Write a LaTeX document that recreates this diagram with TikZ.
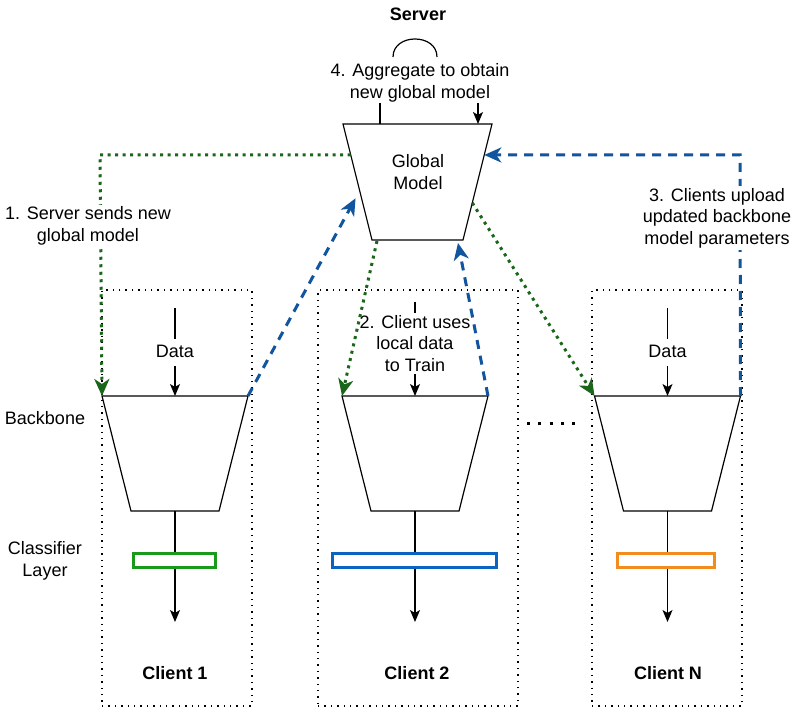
\documentclass[tikz,border=0pt]{standalone}
\usepackage{fontspec}
\setmainfont{Liberation Sans}
\usetikzlibrary{arrows.meta,calc}
\definecolor{gdot}{HTML}{1A661A}
\definecolor{bdash}{HTML}{11559E}
\definecolor{clgreen}{HTML}{1A9A1A}
\definecolor{clblue}{HTML}{0A64C0}
\definecolor{clorange}{HTML}{F28C1E}
% name, cx, ytop, half top width, half bottom width, height
\newcommand\mytrap[6]{%
  \coordinate (#1-tl) at ({#2-#4},#3);
  \coordinate (#1-tr) at ({#2+#4},#3);
  \coordinate (#1-bl) at ({#2-#5},{#3+#6});
  \coordinate (#1-br) at ({#2+#5},{#3+#6});
  \coordinate (#1-n) at (#2,#3);
  \coordinate (#1-s) at (#2,{#3+#6});
  \draw[line width=1.2pt, line join=miter] (#1-tl) -- (#1-tr) -- (#1-br) -- (#1-bl) -- cycle;
}
\begin{document}
\begin{tikzpicture}[x=1pt,y=-1pt,
  every node/.style={font=\fontsize{18}{21.5}\selectfont, inner sep=0pt, outer sep=0pt},
  cbox/.style={draw, line width=1.2pt, dash pattern=on 1.4pt off 5pt, minimum width=150pt, minimum height=416pt},
  clsf/.style={draw=#1, line width=3pt, fill=white, minimum height=14pt},
  blk/.style={line width=1.2pt, -{Stealth[length=12pt,width=10pt,inset=3pt]}},
  plain/.style={line width=1.2pt},
  gflow/.style={gdot, line width=3pt, dash pattern=on 3pt off 4.5pt, -{Stealth[length=17pt,width=15pt,inset=5pt]}},
  bflow/.style={bdash, line width=3pt, dash pattern=on 9pt off 7pt, -{Stealth[length=17pt,width=15pt,inset=5pt]}},
  lbl/.style={fill=white, inner sep=2pt, align=center},
  bold/.style={font=\fontsize{18}{21.5}\selectfont\bfseries}
]
\useasboundingbox (0,0) rectangle (795,711);

% client boxes
\node[cbox] (box1) at (177,498) {};
\node[cbox, minimum width=200pt] (box2) at (418,498) {};
\node[cbox] (boxN) at (667,498) {};

% server
\node[bold] (server) at (418,14) {Server};
\mytrap{gm}{417.5}{124}{74.5}{45.5}{116}
\node[align=center] (gmtxt) at (418,172) {Global\\Model};
\node[align=center] (agg) at (420,83) {4. Aggregate to obtain\\new global model};
\coordinate (aggL) at (380,103);
\coordinate (aggR) at (478,103);
\coordinate (arcL) at (393,57);
\coordinate (arcR) at (437,57);
\draw[plain] (gm-n -| aggL) -- (aggL);
\draw[plain] (arcL) .. controls (393,33) and (437,33) .. (arcR);
\draw[blk] (aggR) -- (gm-n -| aggR);

% backbones
\mytrap{b1}{175}{396}{73}{44}{115}
\mytrap{b2}{415}{396}{73}{44}{115}
\mytrap{bN}{667.5}{396}{73}{44}{115}

% side labels
\node (backbone) at (45,418) {Backbone};
\node[align=center] (classifier) at (45,561) {Classifier\\Layer};

% data inputs
\coordinate (d1) at (175,308);
\coordinate (d2) at (415,302);
\coordinate (dN) at (667.5,308);
\draw[blk] (d1) -- (b1-n) node[lbl, pos=0.5, inner sep=0pt, text height=13pt, text depth=2pt, inner ysep=6pt] (data1) {Data};
\draw[blk] (dN) -- (bN-n) node[lbl, pos=0.5, inner sep=0pt, text height=13pt, text depth=2pt, inner ysep=6pt] (dataN) {Data};
\draw[blk] (d2) -- (b2-n);
\node[lbl] (train) at (415,343.5) {2. Client uses\\local data\\to Train};

% outputs
\coordinate (o1) at (175,622);
\coordinate (o2) at (415,622);
\coordinate (oN) at (667.5,622);
\draw[blk] (b1-s) -- (o1);
\draw[blk] (b2-s) -- (o2);
\draw[blk] (bN-s) -- (oN);
\node[clsf=clgreen, minimum width=82pt] (cl1) at (174.5,560.5) {};
\node[clsf=clblue, minimum width=164pt] (cl2) at (414.5,560.5) {};
\node[clsf=clorange, minimum width=97pt] (clN) at (666,560.5) {};

% client names
\node[bold] (c1) at (175,673) {Client 1};
\node[bold] (c2) at (417,673) {Client 2};
\node[bold] (cN) at (668,673) {Client N};

% ellipsis dots
\coordinate (dotsL) at (527,423);
\coordinate (dotsR) at (575,423);
\draw[line width=3pt, dash pattern=on 3pt off 8.25pt] (dotsL) -- (dotsR);

% flows
\coordinate (gmL1) at ($(gm-tl)!0.267!(gm-bl)$);
\coordinate (gmL2) at ($(gm-tl)!0.64!(gm-bl)$);
\coordinate (gmR1) at ($(gm-tr)!0.267!(gm-br)$);
\coordinate (gmR2) at ($(gm-tr)!0.68!(gm-br)$);
\coordinate (corner1) at (100,155);
\coordinate (cornerN) at (740,155);

\draw[gflow] (gmL1) -- (corner1) -- (b1-tl);
\draw[gflow] ($(gm-bl)+(5,1)$) -- (b2-tl);
\draw[gflow] (gmR2) -- (bN-tl);

\draw[bflow] (b1-tr) -- ($(gmL2)+(-6,0)$);
\draw[bflow] (b2-tr) -- ($(gm-br)+(-5,3)$);
\draw[bflow] (bN-tr) -- (cornerN) -- (gmR1);

\node[lbl] (l1) at (88,226) {1. Server sends new\\global model};
\node[lbl] (l3) at (717,218) {3. Clients upload\\updated backbone\\model parameters};
\end{tikzpicture}
\end{document}
